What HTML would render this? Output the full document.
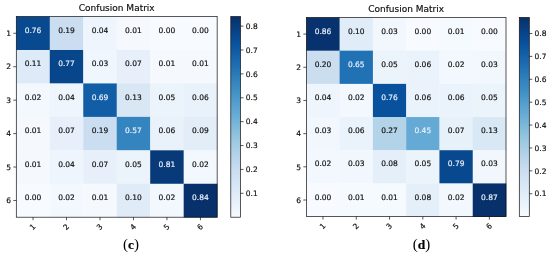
<!DOCTYPE html>
<html><head><meta charset="utf-8"><title>Confusion Matrix</title>
<style>
html,body{margin:0;padding:0;background:#fff;}
body{width:550px;height:256px;overflow:hidden;}
svg{display:block;font-family:"DejaVu Sans","Liberation Sans",sans-serif;}
svg text{stroke-width:0.18px;}
</style></head><body>
<svg width="550" height="256" viewBox="0 0 550 256">
<rect width="550" height="256" fill="#ffffff"/>
<rect x="16.30" y="16.55" width="33.77" height="33.74" fill="#084990"/>
<rect x="49.78" y="16.55" width="33.77" height="33.74" fill="#cbdef1"/>
<rect x="83.25" y="16.55" width="33.77" height="33.74" fill="#eef5fc"/>
<rect x="116.73" y="16.55" width="33.77" height="33.74" fill="#f5f9fe"/>
<rect x="150.20" y="16.55" width="33.77" height="33.74" fill="#f7fbff"/>
<rect x="183.68" y="16.55" width="33.77" height="33.74" fill="#f7fbff"/>
<rect x="16.30" y="49.99" width="33.77" height="33.74" fill="#ddeaf7"/>
<rect x="49.78" y="49.99" width="33.77" height="33.74" fill="#08468b"/>
<rect x="83.25" y="49.99" width="33.77" height="33.74" fill="#f0f6fd"/>
<rect x="116.73" y="49.99" width="33.77" height="33.74" fill="#e7f0fa"/>
<rect x="150.20" y="49.99" width="33.77" height="33.74" fill="#f5f9fe"/>
<rect x="183.68" y="49.99" width="33.77" height="33.74" fill="#f5f9fe"/>
<rect x="16.30" y="83.43" width="33.77" height="33.74" fill="#f2f8fd"/>
<rect x="49.78" y="83.43" width="33.77" height="33.74" fill="#eef5fc"/>
<rect x="83.25" y="83.43" width="33.77" height="33.74" fill="#125ea6"/>
<rect x="116.73" y="83.43" width="33.77" height="33.74" fill="#d9e7f5"/>
<rect x="150.20" y="83.43" width="33.77" height="33.74" fill="#ebf3fb"/>
<rect x="183.68" y="83.43" width="33.77" height="33.74" fill="#e9f2fa"/>
<rect x="16.30" y="116.87" width="33.77" height="33.74" fill="#f5f9fe"/>
<rect x="49.78" y="116.87" width="33.77" height="33.74" fill="#e7f0fa"/>
<rect x="83.25" y="116.87" width="33.77" height="33.74" fill="#cbdef1"/>
<rect x="116.73" y="116.87" width="33.77" height="33.74" fill="#3484bf"/>
<rect x="150.20" y="116.87" width="33.77" height="33.74" fill="#e9f2fa"/>
<rect x="183.68" y="116.87" width="33.77" height="33.74" fill="#e2edf8"/>
<rect x="16.30" y="150.32" width="33.77" height="33.74" fill="#f5f9fe"/>
<rect x="49.78" y="150.32" width="33.77" height="33.74" fill="#eef5fc"/>
<rect x="83.25" y="150.32" width="33.77" height="33.74" fill="#e7f0fa"/>
<rect x="116.73" y="150.32" width="33.77" height="33.74" fill="#ebf3fb"/>
<rect x="150.20" y="150.32" width="33.77" height="33.74" fill="#083979"/>
<rect x="183.68" y="150.32" width="33.77" height="33.74" fill="#f2f8fd"/>
<rect x="16.30" y="183.76" width="33.77" height="33.74" fill="#f7fbff"/>
<rect x="49.78" y="183.76" width="33.77" height="33.74" fill="#f2f8fd"/>
<rect x="83.25" y="183.76" width="33.77" height="33.74" fill="#f5f9fe"/>
<rect x="116.73" y="183.76" width="33.77" height="33.74" fill="#dfecf7"/>
<rect x="150.20" y="183.76" width="33.77" height="33.74" fill="#f2f8fd"/>
<rect x="183.68" y="183.76" width="33.77" height="33.74" fill="#08306b"/>
<rect x="16.30" y="16.55" width="200.85" height="200.65" fill="none" stroke="#111" stroke-width="0.7"/>
<text x="33.04" y="32.77" font-size="7.5" text-anchor="middle" fill="#e9f1fa" stroke="#e9f1fa">0.76</text>
<text x="66.51" y="32.77" font-size="7.5" text-anchor="middle" fill="#111111" stroke="#111111">0.19</text>
<text x="99.99" y="32.77" font-size="7.5" text-anchor="middle" fill="#111111" stroke="#111111">0.04</text>
<text x="133.46" y="32.77" font-size="7.5" text-anchor="middle" fill="#111111" stroke="#111111">0.01</text>
<text x="166.94" y="32.77" font-size="7.5" text-anchor="middle" fill="#111111" stroke="#111111">0.00</text>
<text x="200.41" y="32.77" font-size="7.5" text-anchor="middle" fill="#111111" stroke="#111111">0.00</text>
<text x="33.04" y="66.21" font-size="7.5" text-anchor="middle" fill="#111111" stroke="#111111">0.11</text>
<text x="66.51" y="66.21" font-size="7.5" text-anchor="middle" fill="#e9f1fa" stroke="#e9f1fa">0.77</text>
<text x="99.99" y="66.21" font-size="7.5" text-anchor="middle" fill="#111111" stroke="#111111">0.03</text>
<text x="133.46" y="66.21" font-size="7.5" text-anchor="middle" fill="#111111" stroke="#111111">0.07</text>
<text x="166.94" y="66.21" font-size="7.5" text-anchor="middle" fill="#111111" stroke="#111111">0.01</text>
<text x="200.41" y="66.21" font-size="7.5" text-anchor="middle" fill="#111111" stroke="#111111">0.01</text>
<text x="33.04" y="99.65" font-size="7.5" text-anchor="middle" fill="#111111" stroke="#111111">0.02</text>
<text x="66.51" y="99.65" font-size="7.5" text-anchor="middle" fill="#111111" stroke="#111111">0.04</text>
<text x="99.99" y="99.65" font-size="7.5" text-anchor="middle" fill="#e9f1fa" stroke="#e9f1fa">0.69</text>
<text x="133.46" y="99.65" font-size="7.5" text-anchor="middle" fill="#111111" stroke="#111111">0.13</text>
<text x="166.94" y="99.65" font-size="7.5" text-anchor="middle" fill="#111111" stroke="#111111">0.05</text>
<text x="200.41" y="99.65" font-size="7.5" text-anchor="middle" fill="#111111" stroke="#111111">0.06</text>
<text x="33.04" y="133.10" font-size="7.5" text-anchor="middle" fill="#111111" stroke="#111111">0.01</text>
<text x="66.51" y="133.10" font-size="7.5" text-anchor="middle" fill="#111111" stroke="#111111">0.07</text>
<text x="99.99" y="133.10" font-size="7.5" text-anchor="middle" fill="#111111" stroke="#111111">0.19</text>
<text x="133.46" y="133.10" font-size="7.5" text-anchor="middle" fill="#e9f1fa" stroke="#e9f1fa">0.57</text>
<text x="166.94" y="133.10" font-size="7.5" text-anchor="middle" fill="#111111" stroke="#111111">0.06</text>
<text x="200.41" y="133.10" font-size="7.5" text-anchor="middle" fill="#111111" stroke="#111111">0.09</text>
<text x="33.04" y="166.54" font-size="7.5" text-anchor="middle" fill="#111111" stroke="#111111">0.01</text>
<text x="66.51" y="166.54" font-size="7.5" text-anchor="middle" fill="#111111" stroke="#111111">0.04</text>
<text x="99.99" y="166.54" font-size="7.5" text-anchor="middle" fill="#111111" stroke="#111111">0.07</text>
<text x="133.46" y="166.54" font-size="7.5" text-anchor="middle" fill="#111111" stroke="#111111">0.05</text>
<text x="166.94" y="166.54" font-size="7.5" text-anchor="middle" fill="#e9f1fa" stroke="#e9f1fa">0.81</text>
<text x="200.41" y="166.54" font-size="7.5" text-anchor="middle" fill="#111111" stroke="#111111">0.02</text>
<text x="33.04" y="199.98" font-size="7.5" text-anchor="middle" fill="#111111" stroke="#111111">0.00</text>
<text x="66.51" y="199.98" font-size="7.5" text-anchor="middle" fill="#111111" stroke="#111111">0.02</text>
<text x="99.99" y="199.98" font-size="7.5" text-anchor="middle" fill="#111111" stroke="#111111">0.01</text>
<text x="133.46" y="199.98" font-size="7.5" text-anchor="middle" fill="#111111" stroke="#111111">0.10</text>
<text x="166.94" y="199.98" font-size="7.5" text-anchor="middle" fill="#111111" stroke="#111111">0.02</text>
<text x="200.41" y="199.98" font-size="7.5" text-anchor="middle" fill="#e9f1fa" stroke="#e9f1fa">0.84</text>
<line x1="13.30" x2="16.30" y1="33.27" y2="33.27" stroke="#111" stroke-width="0.7"/>
<text x="11.05" y="35.97" font-size="7.5" text-anchor="end" fill="#111111" stroke="#111111">1</text>
<line x1="13.30" x2="16.30" y1="66.71" y2="66.71" stroke="#111" stroke-width="0.7"/>
<text x="11.05" y="69.41" font-size="7.5" text-anchor="end" fill="#111111" stroke="#111111">2</text>
<line x1="13.30" x2="16.30" y1="100.15" y2="100.15" stroke="#111" stroke-width="0.7"/>
<text x="11.05" y="102.85" font-size="7.5" text-anchor="end" fill="#111111" stroke="#111111">3</text>
<line x1="13.30" x2="16.30" y1="133.60" y2="133.60" stroke="#111" stroke-width="0.7"/>
<text x="11.05" y="136.30" font-size="7.5" text-anchor="end" fill="#111111" stroke="#111111">4</text>
<line x1="13.30" x2="16.30" y1="167.04" y2="167.04" stroke="#111" stroke-width="0.7"/>
<text x="11.05" y="169.74" font-size="7.5" text-anchor="end" fill="#111111" stroke="#111111">5</text>
<line x1="13.30" x2="16.30" y1="200.48" y2="200.48" stroke="#111" stroke-width="0.7"/>
<text x="11.05" y="203.18" font-size="7.5" text-anchor="end" fill="#111111" stroke="#111111">6</text>
<line x1="33.04" x2="33.04" y1="217.20" y2="220.20" stroke="#111" stroke-width="0.7"/>
<text transform="translate(32.64,226.80) rotate(-45)" x="0" y="2.70" font-size="7.5" text-anchor="middle" fill="#111111" stroke="#111111">1</text>
<line x1="66.51" x2="66.51" y1="217.20" y2="220.20" stroke="#111" stroke-width="0.7"/>
<text transform="translate(66.11,226.80) rotate(-45)" x="0" y="2.70" font-size="7.5" text-anchor="middle" fill="#111111" stroke="#111111">2</text>
<line x1="99.99" x2="99.99" y1="217.20" y2="220.20" stroke="#111" stroke-width="0.7"/>
<text transform="translate(99.59,226.80) rotate(-45)" x="0" y="2.70" font-size="7.5" text-anchor="middle" fill="#111111" stroke="#111111">3</text>
<line x1="133.46" x2="133.46" y1="217.20" y2="220.20" stroke="#111" stroke-width="0.7"/>
<text transform="translate(133.06,226.80) rotate(-45)" x="0" y="2.70" font-size="7.5" text-anchor="middle" fill="#111111" stroke="#111111">4</text>
<line x1="166.94" x2="166.94" y1="217.20" y2="220.20" stroke="#111" stroke-width="0.7"/>
<text transform="translate(166.54,226.80) rotate(-45)" x="0" y="2.70" font-size="7.5" text-anchor="middle" fill="#111111" stroke="#111111">5</text>
<line x1="200.41" x2="200.41" y1="217.20" y2="220.20" stroke="#111" stroke-width="0.7"/>
<text transform="translate(200.01,226.80) rotate(-45)" x="0" y="2.70" font-size="7.5" text-anchor="middle" fill="#111111" stroke="#111111">6</text>
<text x="116.73" y="11.10" font-size="9.0" text-anchor="middle" fill="#111111" stroke="#111111">Confusion Matrix</text>
<defs><linearGradient id="ga" x1="0" y1="0" x2="0" y2="1"><stop offset="0.0000" stop-color="#08306b"/><stop offset="0.0625" stop-color="#084082"/><stop offset="0.1250" stop-color="#08509b"/><stop offset="0.1875" stop-color="#1460a8"/><stop offset="0.2500" stop-color="#2070b4"/><stop offset="0.3125" stop-color="#3181bd"/><stop offset="0.3750" stop-color="#4191c6"/><stop offset="0.4375" stop-color="#56a0ce"/><stop offset="0.5000" stop-color="#6aaed6"/><stop offset="0.5625" stop-color="#84bcdb"/><stop offset="0.6250" stop-color="#9dcae1"/><stop offset="0.6875" stop-color="#b2d2e8"/><stop offset="0.7500" stop-color="#c6dbef"/><stop offset="0.8125" stop-color="#d2e3f3"/><stop offset="0.8750" stop-color="#deebf7"/><stop offset="0.9375" stop-color="#eaf3fb"/><stop offset="1.0000" stop-color="#f7fbff"/></linearGradient></defs>
<rect x="230.80" y="16.55" width="9.70" height="200.65" fill="url(#ga)" stroke="#111" stroke-width="0.7"/>
<line x1="240.50" x2="243.50" y1="193.31" y2="193.31" stroke="#111" stroke-width="0.7"/>
<text x="245.75" y="196.01" font-size="7.5" fill="#111111" stroke="#111111">0.1</text>
<line x1="240.50" x2="243.50" y1="169.43" y2="169.43" stroke="#111" stroke-width="0.7"/>
<text x="245.75" y="172.13" font-size="7.5" fill="#111111" stroke="#111111">0.2</text>
<line x1="240.50" x2="243.50" y1="145.54" y2="145.54" stroke="#111" stroke-width="0.7"/>
<text x="245.75" y="148.24" font-size="7.5" fill="#111111" stroke="#111111">0.3</text>
<line x1="240.50" x2="243.50" y1="121.65" y2="121.65" stroke="#111" stroke-width="0.7"/>
<text x="245.75" y="124.35" font-size="7.5" fill="#111111" stroke="#111111">0.4</text>
<line x1="240.50" x2="243.50" y1="97.77" y2="97.77" stroke="#111" stroke-width="0.7"/>
<text x="245.75" y="100.47" font-size="7.5" fill="#111111" stroke="#111111">0.5</text>
<line x1="240.50" x2="243.50" y1="73.88" y2="73.88" stroke="#111" stroke-width="0.7"/>
<text x="245.75" y="76.58" font-size="7.5" fill="#111111" stroke="#111111">0.6</text>
<line x1="240.50" x2="243.50" y1="49.99" y2="49.99" stroke="#111" stroke-width="0.7"/>
<text x="245.75" y="52.69" font-size="7.5" fill="#111111" stroke="#111111">0.7</text>
<line x1="240.50" x2="243.50" y1="26.10" y2="26.10" stroke="#111" stroke-width="0.7"/>
<text x="245.75" y="28.80" font-size="7.5" fill="#111111" stroke="#111111">0.8</text>
<text x="131.00" y="249.00" font-family="'Liberation Serif', serif" font-size="13.5" text-anchor="middle" fill="#000" stroke="#000"><tspan font-size="15" dy="0.4" stroke-width="0">(</tspan><tspan font-weight="bold" dy="-0.4">c</tspan><tspan font-size="15" dy="0.4" stroke-width="0">)</tspan></text>
<rect x="306.35" y="17.50" width="33.57" height="33.48" fill="#08326e"/>
<rect x="339.62" y="17.50" width="33.57" height="33.48" fill="#e0ecf8"/>
<rect x="372.90" y="17.50" width="33.57" height="33.48" fill="#f1f7fd"/>
<rect x="406.18" y="17.50" width="33.57" height="33.48" fill="#f7fbff"/>
<rect x="439.45" y="17.50" width="33.57" height="33.48" fill="#f5fafe"/>
<rect x="472.73" y="17.50" width="33.57" height="33.48" fill="#f7fbff"/>
<rect x="306.35" y="50.68" width="33.57" height="33.48" fill="#cadef0"/>
<rect x="339.62" y="50.68" width="33.57" height="33.48" fill="#2171b5"/>
<rect x="372.90" y="50.68" width="33.57" height="33.48" fill="#ecf4fb"/>
<rect x="406.18" y="50.68" width="33.57" height="33.48" fill="#eaf2fb"/>
<rect x="439.45" y="50.68" width="33.57" height="33.48" fill="#f3f8fe"/>
<rect x="472.73" y="50.68" width="33.57" height="33.48" fill="#f1f7fd"/>
<rect x="306.35" y="83.87" width="33.57" height="33.48" fill="#eef5fc"/>
<rect x="339.62" y="83.87" width="33.57" height="33.48" fill="#f3f8fe"/>
<rect x="372.90" y="83.87" width="33.57" height="33.48" fill="#08519c"/>
<rect x="406.18" y="83.87" width="33.57" height="33.48" fill="#eaf2fb"/>
<rect x="439.45" y="83.87" width="33.57" height="33.48" fill="#eaf2fb"/>
<rect x="472.73" y="83.87" width="33.57" height="33.48" fill="#ecf4fb"/>
<rect x="306.35" y="117.05" width="33.57" height="33.48" fill="#f1f7fd"/>
<rect x="339.62" y="117.05" width="33.57" height="33.48" fill="#eaf2fb"/>
<rect x="372.90" y="117.05" width="33.57" height="33.48" fill="#b3d3e8"/>
<rect x="406.18" y="117.05" width="33.57" height="33.48" fill="#65aad4"/>
<rect x="439.45" y="117.05" width="33.57" height="33.48" fill="#e7f1fa"/>
<rect x="472.73" y="117.05" width="33.57" height="33.48" fill="#d9e8f5"/>
<rect x="306.35" y="150.23" width="33.57" height="33.48" fill="#f3f8fe"/>
<rect x="339.62" y="150.23" width="33.57" height="33.48" fill="#f1f7fd"/>
<rect x="372.90" y="150.23" width="33.57" height="33.48" fill="#e5eff9"/>
<rect x="406.18" y="150.23" width="33.57" height="33.48" fill="#ecf4fb"/>
<rect x="439.45" y="150.23" width="33.57" height="33.48" fill="#08488e"/>
<rect x="472.73" y="150.23" width="33.57" height="33.48" fill="#f1f7fd"/>
<rect x="306.35" y="183.42" width="33.57" height="33.48" fill="#f7fbff"/>
<rect x="339.62" y="183.42" width="33.57" height="33.48" fill="#f5fafe"/>
<rect x="372.90" y="183.42" width="33.57" height="33.48" fill="#f5fafe"/>
<rect x="406.18" y="183.42" width="33.57" height="33.48" fill="#e5eff9"/>
<rect x="439.45" y="183.42" width="33.57" height="33.48" fill="#f3f8fe"/>
<rect x="472.73" y="183.42" width="33.57" height="33.48" fill="#08306b"/>
<rect x="306.35" y="17.50" width="199.65" height="199.10" fill="none" stroke="#111" stroke-width="0.7"/>
<text x="322.99" y="33.59" font-size="7.5" text-anchor="middle" fill="#e9f1fa" stroke="#e9f1fa">0.86</text>
<text x="356.26" y="33.59" font-size="7.5" text-anchor="middle" fill="#111111" stroke="#111111">0.10</text>
<text x="389.54" y="33.59" font-size="7.5" text-anchor="middle" fill="#111111" stroke="#111111">0.03</text>
<text x="422.81" y="33.59" font-size="7.5" text-anchor="middle" fill="#111111" stroke="#111111">0.00</text>
<text x="456.09" y="33.59" font-size="7.5" text-anchor="middle" fill="#111111" stroke="#111111">0.01</text>
<text x="489.36" y="33.59" font-size="7.5" text-anchor="middle" fill="#111111" stroke="#111111">0.00</text>
<text x="322.99" y="66.77" font-size="7.5" text-anchor="middle" fill="#111111" stroke="#111111">0.20</text>
<text x="356.26" y="66.77" font-size="7.5" text-anchor="middle" fill="#e9f1fa" stroke="#e9f1fa">0.65</text>
<text x="389.54" y="66.77" font-size="7.5" text-anchor="middle" fill="#111111" stroke="#111111">0.05</text>
<text x="422.81" y="66.77" font-size="7.5" text-anchor="middle" fill="#111111" stroke="#111111">0.06</text>
<text x="456.09" y="66.77" font-size="7.5" text-anchor="middle" fill="#111111" stroke="#111111">0.02</text>
<text x="489.36" y="66.77" font-size="7.5" text-anchor="middle" fill="#111111" stroke="#111111">0.03</text>
<text x="322.99" y="99.96" font-size="7.5" text-anchor="middle" fill="#111111" stroke="#111111">0.04</text>
<text x="356.26" y="99.96" font-size="7.5" text-anchor="middle" fill="#111111" stroke="#111111">0.02</text>
<text x="389.54" y="99.96" font-size="7.5" text-anchor="middle" fill="#e9f1fa" stroke="#e9f1fa">0.76</text>
<text x="422.81" y="99.96" font-size="7.5" text-anchor="middle" fill="#111111" stroke="#111111">0.06</text>
<text x="456.09" y="99.96" font-size="7.5" text-anchor="middle" fill="#111111" stroke="#111111">0.06</text>
<text x="489.36" y="99.96" font-size="7.5" text-anchor="middle" fill="#111111" stroke="#111111">0.05</text>
<text x="322.99" y="133.14" font-size="7.5" text-anchor="middle" fill="#111111" stroke="#111111">0.03</text>
<text x="356.26" y="133.14" font-size="7.5" text-anchor="middle" fill="#111111" stroke="#111111">0.06</text>
<text x="389.54" y="133.14" font-size="7.5" text-anchor="middle" fill="#111111" stroke="#111111">0.27</text>
<text x="422.81" y="133.14" font-size="7.5" text-anchor="middle" fill="#e9f1fa" stroke="#e9f1fa">0.45</text>
<text x="456.09" y="133.14" font-size="7.5" text-anchor="middle" fill="#111111" stroke="#111111">0.07</text>
<text x="489.36" y="133.14" font-size="7.5" text-anchor="middle" fill="#111111" stroke="#111111">0.13</text>
<text x="322.99" y="166.32" font-size="7.5" text-anchor="middle" fill="#111111" stroke="#111111">0.02</text>
<text x="356.26" y="166.32" font-size="7.5" text-anchor="middle" fill="#111111" stroke="#111111">0.03</text>
<text x="389.54" y="166.32" font-size="7.5" text-anchor="middle" fill="#111111" stroke="#111111">0.08</text>
<text x="422.81" y="166.32" font-size="7.5" text-anchor="middle" fill="#111111" stroke="#111111">0.05</text>
<text x="456.09" y="166.32" font-size="7.5" text-anchor="middle" fill="#e9f1fa" stroke="#e9f1fa">0.79</text>
<text x="489.36" y="166.32" font-size="7.5" text-anchor="middle" fill="#111111" stroke="#111111">0.03</text>
<text x="322.99" y="199.51" font-size="7.5" text-anchor="middle" fill="#111111" stroke="#111111">0.00</text>
<text x="356.26" y="199.51" font-size="7.5" text-anchor="middle" fill="#111111" stroke="#111111">0.01</text>
<text x="389.54" y="199.51" font-size="7.5" text-anchor="middle" fill="#111111" stroke="#111111">0.01</text>
<text x="422.81" y="199.51" font-size="7.5" text-anchor="middle" fill="#111111" stroke="#111111">0.08</text>
<text x="456.09" y="199.51" font-size="7.5" text-anchor="middle" fill="#111111" stroke="#111111">0.02</text>
<text x="489.36" y="199.51" font-size="7.5" text-anchor="middle" fill="#e9f1fa" stroke="#e9f1fa">0.87</text>
<line x1="303.35" x2="306.35" y1="34.09" y2="34.09" stroke="#111" stroke-width="0.7"/>
<text x="301.10" y="36.79" font-size="7.5" text-anchor="end" fill="#111111" stroke="#111111">1</text>
<line x1="303.35" x2="306.35" y1="67.27" y2="67.27" stroke="#111" stroke-width="0.7"/>
<text x="301.10" y="69.97" font-size="7.5" text-anchor="end" fill="#111111" stroke="#111111">2</text>
<line x1="303.35" x2="306.35" y1="100.46" y2="100.46" stroke="#111" stroke-width="0.7"/>
<text x="301.10" y="103.16" font-size="7.5" text-anchor="end" fill="#111111" stroke="#111111">3</text>
<line x1="303.35" x2="306.35" y1="133.64" y2="133.64" stroke="#111" stroke-width="0.7"/>
<text x="301.10" y="136.34" font-size="7.5" text-anchor="end" fill="#111111" stroke="#111111">4</text>
<line x1="303.35" x2="306.35" y1="166.82" y2="166.82" stroke="#111" stroke-width="0.7"/>
<text x="301.10" y="169.52" font-size="7.5" text-anchor="end" fill="#111111" stroke="#111111">5</text>
<line x1="303.35" x2="306.35" y1="200.01" y2="200.01" stroke="#111" stroke-width="0.7"/>
<text x="301.10" y="202.71" font-size="7.5" text-anchor="end" fill="#111111" stroke="#111111">6</text>
<line x1="322.99" x2="322.99" y1="216.60" y2="219.60" stroke="#111" stroke-width="0.7"/>
<text transform="translate(322.59,226.20) rotate(-45)" x="0" y="2.70" font-size="7.5" text-anchor="middle" fill="#111111" stroke="#111111">1</text>
<line x1="356.26" x2="356.26" y1="216.60" y2="219.60" stroke="#111" stroke-width="0.7"/>
<text transform="translate(355.86,226.20) rotate(-45)" x="0" y="2.70" font-size="7.5" text-anchor="middle" fill="#111111" stroke="#111111">2</text>
<line x1="389.54" x2="389.54" y1="216.60" y2="219.60" stroke="#111" stroke-width="0.7"/>
<text transform="translate(389.14,226.20) rotate(-45)" x="0" y="2.70" font-size="7.5" text-anchor="middle" fill="#111111" stroke="#111111">3</text>
<line x1="422.81" x2="422.81" y1="216.60" y2="219.60" stroke="#111" stroke-width="0.7"/>
<text transform="translate(422.41,226.20) rotate(-45)" x="0" y="2.70" font-size="7.5" text-anchor="middle" fill="#111111" stroke="#111111">4</text>
<line x1="456.09" x2="456.09" y1="216.60" y2="219.60" stroke="#111" stroke-width="0.7"/>
<text transform="translate(455.69,226.20) rotate(-45)" x="0" y="2.70" font-size="7.5" text-anchor="middle" fill="#111111" stroke="#111111">5</text>
<line x1="489.36" x2="489.36" y1="216.60" y2="219.60" stroke="#111" stroke-width="0.7"/>
<text transform="translate(488.96,226.20) rotate(-45)" x="0" y="2.70" font-size="7.5" text-anchor="middle" fill="#111111" stroke="#111111">6</text>
<text x="406.18" y="12.05" font-size="9.0" text-anchor="middle" fill="#111111" stroke="#111111">Confusion Matrix</text>
<defs><linearGradient id="gb" x1="0" y1="0" x2="0" y2="1"><stop offset="0.0000" stop-color="#08306b"/><stop offset="0.0625" stop-color="#084082"/><stop offset="0.1250" stop-color="#08509b"/><stop offset="0.1875" stop-color="#1460a8"/><stop offset="0.2500" stop-color="#2070b4"/><stop offset="0.3125" stop-color="#3181bd"/><stop offset="0.3750" stop-color="#4191c6"/><stop offset="0.4375" stop-color="#56a0ce"/><stop offset="0.5000" stop-color="#6aaed6"/><stop offset="0.5625" stop-color="#84bcdb"/><stop offset="0.6250" stop-color="#9dcae1"/><stop offset="0.6875" stop-color="#b2d2e8"/><stop offset="0.7500" stop-color="#c6dbef"/><stop offset="0.8125" stop-color="#d2e3f3"/><stop offset="0.8750" stop-color="#deebf7"/><stop offset="0.9375" stop-color="#eaf3fb"/><stop offset="1.0000" stop-color="#f7fbff"/></linearGradient></defs>
<rect x="519.30" y="17.50" width="10.00" height="199.10" fill="url(#gb)" stroke="#111" stroke-width="0.7"/>
<line x1="529.30" x2="532.30" y1="193.71" y2="193.71" stroke="#111" stroke-width="0.7"/>
<text x="534.55" y="196.41" font-size="7.5" fill="#111111" stroke="#111111">0.1</text>
<line x1="529.30" x2="532.30" y1="170.83" y2="170.83" stroke="#111" stroke-width="0.7"/>
<text x="534.55" y="173.53" font-size="7.5" fill="#111111" stroke="#111111">0.2</text>
<line x1="529.30" x2="532.30" y1="147.94" y2="147.94" stroke="#111" stroke-width="0.7"/>
<text x="534.55" y="150.64" font-size="7.5" fill="#111111" stroke="#111111">0.3</text>
<line x1="529.30" x2="532.30" y1="125.06" y2="125.06" stroke="#111" stroke-width="0.7"/>
<text x="534.55" y="127.76" font-size="7.5" fill="#111111" stroke="#111111">0.4</text>
<line x1="529.30" x2="532.30" y1="102.17" y2="102.17" stroke="#111" stroke-width="0.7"/>
<text x="534.55" y="104.87" font-size="7.5" fill="#111111" stroke="#111111">0.5</text>
<line x1="529.30" x2="532.30" y1="79.29" y2="79.29" stroke="#111" stroke-width="0.7"/>
<text x="534.55" y="81.99" font-size="7.5" fill="#111111" stroke="#111111">0.6</text>
<line x1="529.30" x2="532.30" y1="56.40" y2="56.40" stroke="#111" stroke-width="0.7"/>
<text x="534.55" y="59.10" font-size="7.5" fill="#111111" stroke="#111111">0.7</text>
<line x1="529.30" x2="532.30" y1="33.52" y2="33.52" stroke="#111" stroke-width="0.7"/>
<text x="534.55" y="36.22" font-size="7.5" fill="#111111" stroke="#111111">0.8</text>
<text x="421.50" y="249.00" font-family="'Liberation Serif', serif" font-size="13.5" text-anchor="middle" fill="#000" stroke="#000"><tspan font-size="15" dy="0.4" stroke-width="0">(</tspan><tspan font-weight="bold" dy="-0.4">d</tspan><tspan font-size="15" dy="0.4" stroke-width="0">)</tspan></text>
</svg>
</body></html>
